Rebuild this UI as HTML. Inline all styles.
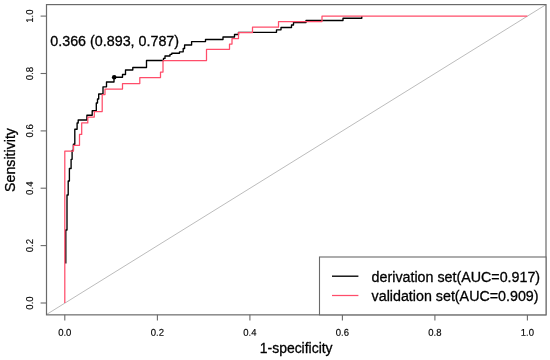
<!DOCTYPE html>
<html><head><meta charset="utf-8"><title>ROC</title>
<style>html,body{margin:0;padding:0;background:#fff;}svg{display:block;}text{font-family:"Liberation Sans",sans-serif;fill:#000;stroke:#000;stroke-width:0.3px;}text.t{stroke-width:0.15px;}</style></head><body>
<svg width="550" height="360" viewBox="0 0 550 360">
<rect width="550" height="360" fill="#fff"/>
<line x1="46.5" y1="314.5" x2="546.0" y2="4.6" stroke="#b4b4b4" stroke-width="0.9"/>
<path d="M65.8,263.5 V230 H67 V195 H68.2 V181 H69.4 V168.5 H71.1 V159.3 H72.1 V150.5 H73.4 V144.2 H74.8 V129.2 H77.1 V123 H78.2 V120 H86.9 V115.2 H92.2 V110.7 H96.3 V103 H97.5 V99 H98.7 V94 H103 V86.8 H106.5 V82 H114 V77.2 H122.5 V74.5 H125.5 V70 H132.8 V67.5 H146.5 V60.5 H163.5 V58.4 H165 V56 H170 V54.3 H171.8 V53.2 H179.5 V51.8 H183.2 V48.5 H184.6 V45 H191.6 V41.6 H205.5 V39.5 H223 V37 H234.5 V34.5 H238.5 V32.3 H276.5 V29.8 H281 V27.5 H291.5 V25 H293.5 V22.5 H306 V20.5 H343 V18.2 H361.8 V16.3" fill="none" stroke="#000" stroke-width="1.35" stroke-linejoin="round"/>
<path d="M64.8,303 V151 H73.4 V145.3 H79.5 V134.4 H81.7 V122.9 H87.8 V117.1 H94.3 V111.5 H102.2 V94.5 H105 V89 H122.5 V83.5 H139.8 V77.6 H160.5 V72 H163 V60.5 H206.5 V49.3 H229.5 V44 H232 V38.5 H238.5 V32.5 H252.5 V27.2 H278.5 V21.5 H322 V16.1 H527.3" fill="none" stroke="#ff4d6a" stroke-width="1.25" stroke-linejoin="round"/>
<circle cx="114.2" cy="77.2" r="2.3" fill="#000"/>
<rect x="46.5" y="4.6" width="499.5" height="310.25" fill="none" stroke="#6a6a6a" stroke-width="1.2"/>
<line x1="64.8" y1="314.85" x2="64.8" y2="320.6" stroke="#6a6a6a" stroke-width="1.1"/>
<line x1="46.5" y1="303.0" x2="40.6" y2="303.0" stroke="#6a6a6a" stroke-width="1.1"/>
<text transform="translate(64.8,335.7) rotate(0.1) scale(0.97,1)" class="t" font-size="9.8" text-anchor="middle">0.0</text>
<text transform="translate(32.9,303.0) rotate(-89.9) scale(0.97,1)" class="t" font-size="9.9" text-anchor="middle">0.0</text>
<line x1="157.4" y1="314.85" x2="157.4" y2="320.6" stroke="#6a6a6a" stroke-width="1.1"/>
<line x1="46.5" y1="245.6" x2="40.6" y2="245.6" stroke="#6a6a6a" stroke-width="1.1"/>
<text transform="translate(157.4,335.7) rotate(0.1) scale(0.97,1)" class="t" font-size="9.8" text-anchor="middle">0.2</text>
<text transform="translate(32.9,245.6) rotate(-89.9) scale(0.97,1)" class="t" font-size="9.9" text-anchor="middle">0.2</text>
<line x1="249.9" y1="314.85" x2="249.9" y2="320.6" stroke="#6a6a6a" stroke-width="1.1"/>
<line x1="46.5" y1="188.2" x2="40.6" y2="188.2" stroke="#6a6a6a" stroke-width="1.1"/>
<text transform="translate(249.9,335.7) rotate(0.1) scale(0.97,1)" class="t" font-size="9.8" text-anchor="middle">0.4</text>
<text transform="translate(32.9,188.2) rotate(-89.9) scale(0.97,1)" class="t" font-size="9.9" text-anchor="middle">0.4</text>
<line x1="342.4" y1="314.85" x2="342.4" y2="320.6" stroke="#6a6a6a" stroke-width="1.1"/>
<line x1="46.5" y1="130.9" x2="40.6" y2="130.9" stroke="#6a6a6a" stroke-width="1.1"/>
<text transform="translate(342.4,335.7) rotate(0.1) scale(0.97,1)" class="t" font-size="9.8" text-anchor="middle">0.6</text>
<text transform="translate(32.9,130.9) rotate(-89.9) scale(0.97,1)" class="t" font-size="9.9" text-anchor="middle">0.6</text>
<line x1="434.9" y1="314.85" x2="434.9" y2="320.6" stroke="#6a6a6a" stroke-width="1.1"/>
<line x1="46.5" y1="73.5" x2="40.6" y2="73.5" stroke="#6a6a6a" stroke-width="1.1"/>
<text transform="translate(434.9,335.7) rotate(0.1) scale(0.97,1)" class="t" font-size="9.8" text-anchor="middle">0.8</text>
<text transform="translate(32.9,73.5) rotate(-89.9) scale(0.97,1)" class="t" font-size="9.9" text-anchor="middle">0.8</text>
<line x1="527.4" y1="314.85" x2="527.4" y2="320.6" stroke="#6a6a6a" stroke-width="1.1"/>
<line x1="46.5" y1="16.1" x2="40.6" y2="16.1" stroke="#6a6a6a" stroke-width="1.1"/>
<text transform="translate(527.4,335.7) rotate(0.1) scale(0.97,1)" class="t" font-size="9.8" text-anchor="middle">1.0</text>
<text transform="translate(32.9,16.1) rotate(-89.9) scale(0.97,1)" class="t" font-size="9.9" text-anchor="middle">1.0</text>
<text x="296.2" y="353.0" font-size="13.95" text-anchor="middle">1-specificity</text>
<text transform="translate(14.7,160) rotate(-90)" font-size="14.2" text-anchor="middle">Sensitivity</text>
<text x="50.3" y="46.3" font-size="14.3">0.366 (0.893, 0.787)</text>
<rect x="319.5" y="257.0" width="226.5" height="57.85000000000002" fill="#fff" stroke="#6a6a6a" stroke-width="1.1"/>
<line x1="332" y1="276.2" x2="358.4" y2="276.2" stroke="#000" stroke-width="1.35"/>
<line x1="332" y1="295.5" x2="358.4" y2="295.5" stroke="#ff4d6a" stroke-width="1.25"/>
<text x="371.6" y="281.5" font-size="14.28">derivation set(AUC=0.917)</text>
<text x="371.6" y="300.6" font-size="14.28">validation set(AUC=0.909)</text>
</svg></body></html>
